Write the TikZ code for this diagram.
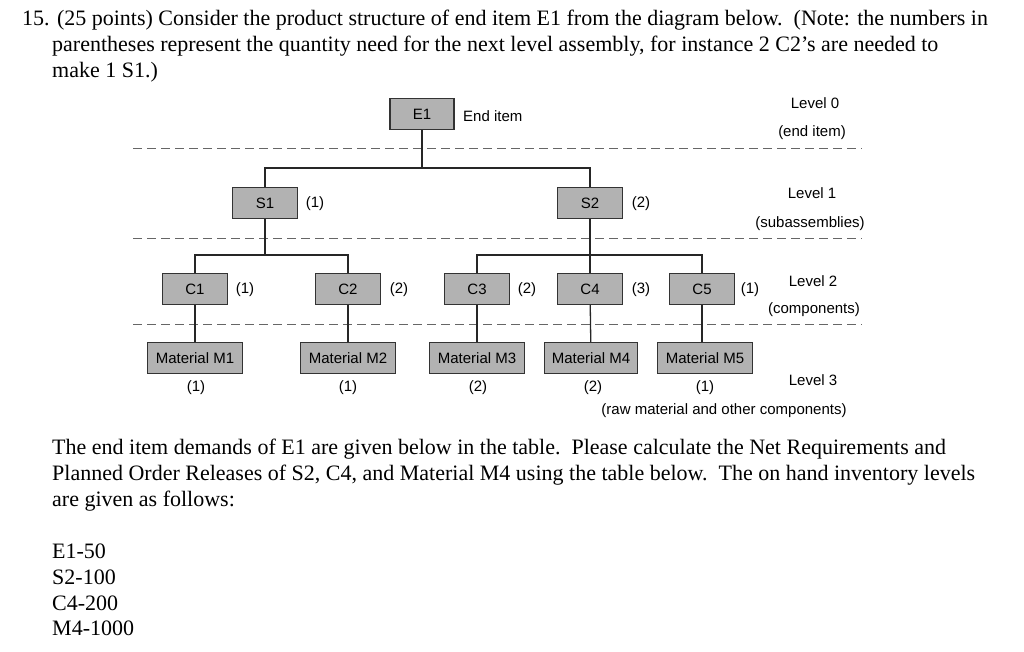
\documentclass[tikz,border=0pt]{standalone}
\usepackage{fontspec}
\setmainfont{Liberation Serif}
\newfontfamily\dsans{Liberation Sans}
\begin{document}
\begin{tikzpicture}[x=1pt,y=-1pt,
  box/.style={draw=black!80,line width=1.1pt,fill=black!30,minimum height=31pt,font=\dsans\fontsize{15}{17}\selectfont,inner sep=1pt},
  sbox/.style={box,minimum width=65pt},
  mbox/.style={box,minimum width=95pt},
  lab/.style={font=\dsans\fontsize{15}{17}\selectfont,inner sep=0pt},
  para/.style={anchor=north west,align=left,font=\fontsize{22}{25.7}\selectfont,inner sep=0pt},
  lvl/.style={dashed,dash pattern=on 9pt off 5pt,black!60,line width=1pt},
  con/.style={line width=1.3pt,black!85}]
\useasboundingbox (0,0) rectangle (1024,652);
\node[para] (q) at (22,10) {15. (25 points) Consider the product structure of end item E1 from the diagram below.\ \ (Note: the numbers in\\
\hspace*{30pt}parentheses represent the quantity need for the next level assembly, for instance 2 C2’s are needed to\\
\hspace*{30pt}make 1 S1.)};
\node[para] (p) at (52,439) {The end item demands of E1 are given below in the table.\ \ Please calculate the Net Requirements and\\
Planned Order Releases of S2, C4, and Material M4 using the table below.\ \ The on hand inventory levels\\
are given as follows:};
\node[para] (l) at (52,544) {E1-50\\S2-100\\C4-200\\M4-1000};
% dashed level lines
\coordinate (d1a) at (133,149); \coordinate (d1b) at (862,149);
\coordinate (d2a) at (133,238); \coordinate (d2b) at (862,238);
\coordinate (d3a) at (133,324); \coordinate (d3b) at (862,324);
\draw[lvl] (d1a) -- (d1b); \draw[lvl] (d2a) -- (d2b); \draw[lvl] (d3a) -- (d3b);
% nodes
\node[box,minimum width=64pt] (E1) at (422,114) {E1};
\node[sbox] (S1) at (265,203) {S1};
\node[sbox] (S2) at (590,203) {S2};
\node[sbox] (C1) at (195,289) {C1};
\node[sbox] (C2) at (348,289) {C2};
\node[sbox] (C3) at (477,289) {C3};
\node[sbox] (C4) at (590,289) {C4};
\node[sbox] (C5) at (702,289) {C5};
\node[mbox] (M1) at (195,358) {Material M1};
\node[mbox] (M2) at (348,358) {Material M2};
\node[mbox] (M3) at (477,358) {Material M3};
\node[mbox,minimum width=93pt] (M4) at (591,358) {Material M4};
\node[mbox] (M5) at (705,358) {Material M5};
% connectors
\draw[con] (E1.south) |- (422,168) -| (S1.north);
\draw[con] (E1.south) |- (422,168) -| (S2.north);
\draw[con] (S1.south) |- (265,255) -| (C1.north);
\draw[con] (S1.south) |- (265,255) -| (C2.north);
\draw[con] (S2.south) |- (590,255) -| (C3.north);
\draw[con] (S2.south) -- (C4.north);
\draw[con] (S2.south) |- (590,255) -| (C5.north);
\draw[con] (C1) -- (M1); \draw[con] (C2) -- (M2); \draw[con] (C3) -- (M3);
\draw[con] (C4) -- (M4); \draw[con] (C5) -- (M5.north -| C5);
% labels
\node[lab,anchor=west] (tE) at (463,116) {End item};
\node[lab] (q1) at (315,204) {(1)};
\node[lab] (q2) at (641,204) {(2)};
\node[lab] (q3) at (245,290) {(1)};
\node[lab] (q4) at (399,290) {(2)};
\node[lab] (q5) at (527,290) {(2)};
\node[lab] (q6) at (641,290) {(3)};
\node[lab] (q7) at (750,290) {(1)};
\node[lab] (q8) at (196,388) {(1)};
\node[lab] (q9) at (348,388) {(1)};
\node[lab] (q10) at (478,388) {(2)};
\node[lab] (q11) at (593,388) {(2)};
\node[lab] (q12) at (705,388) {(1)};
\node[lab] (L0) at (815,103) {Level 0};
\node[lab] (L0b) at (812,133) {(end item)};
\node[lab] (L1) at (812,193) {Level 1};
\node[lab] (L1b) at (810,224) {(subassemblies)};
\node[lab] (L2) at (813,281) {Level 2};
\node[lab] (L2b) at (814,310) {(components)};
\node[lab] (L3) at (813,380) {Level 3};
\node[lab] (L3b) at (724,411) {(raw material and other components)};
\end{tikzpicture}
\end{document}
